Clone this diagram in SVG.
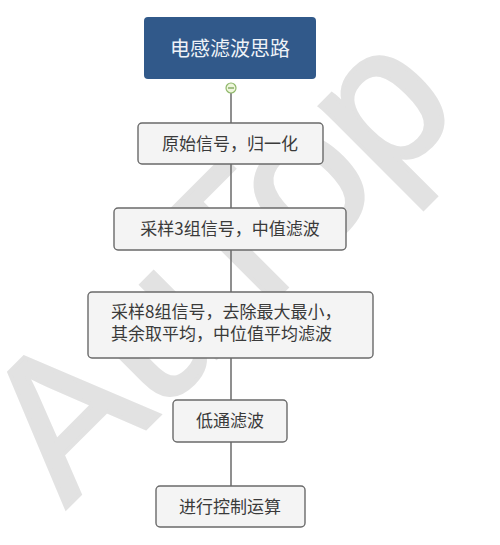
<svg xmlns="http://www.w3.org/2000/svg" width="500" height="545" viewBox="0 0 500 545">
<defs>
<style>
.node rect.b{fill:#f4f4f4;stroke:#6a6a6a;stroke-width:1.4}
.t{font-family:"Microsoft YaHei","Noto Sans CJK SC","Liberation Sans",sans-serif;font-size:17px;fill:#3a3a3a}
.conn line{stroke:#6a6a6a;stroke-width:1.5}
</style>
</defs>
<rect width="500" height="545" fill="#ffffff"/>
<text x="66" y="508" transform="rotate(-45 66 508)" font-family="Liberation Sans, sans-serif" font-size="198" fill="#e2e2e2" stroke="#e2e2e2" stroke-width="4">AuTop</text>
<g class="conn">
<line x1="231" y1="93" x2="231" y2="123"/>
<line x1="231" y1="164" x2="231" y2="208"/>
<line x1="231" y1="250" x2="231" y2="292"/>
<line x1="231" y1="358" x2="231" y2="400"/>
<line x1="231" y1="442" x2="231" y2="486"/>
</g>
<g id="root">
<rect x="144" y="17" width="172" height="62" rx="4" fill="#31598a"/>
<text x="230" y="56" text-anchor="middle" font-family="Microsoft YaHei, Noto Sans CJK SC, sans-serif" font-size="20" fill="#eef2f7">电感滤波思路</text>
<circle cx="231" cy="88" r="5" fill="#eef6dc" stroke="#8fb86a" stroke-width="1.2"/>
<line x1="228" y1="88" x2="234" y2="88" stroke="#6f9a48" stroke-width="1.2"/>
</g>
<g id="n1" class="node">
<rect class="b" x="138" y="123" width="185" height="41" rx="4"/>
<text class="t" x="230" y="150" text-anchor="middle">原始信号，归一化</text>
</g>
<g id="n2" class="node">
<rect class="b" x="114" y="208" width="232" height="42" rx="4"/>
<text class="t" x="230" y="235" text-anchor="middle">采样3组信号，中值滤波</text>
</g>
<g id="n3" class="node">
<rect class="b" x="88" y="292" width="285" height="66" rx="4"/>
<text class="t" x="111" y="318">采样8组信号，去除最大最小，</text>
<text class="t" x="111" y="340">其余取平均，中位值平均滤波</text>
</g>
<g id="n4" class="node">
<rect class="b" x="173" y="400" width="114" height="42" rx="4"/>
<text class="t" x="230" y="427" text-anchor="middle">低通滤波</text>
</g>
<g id="n5" class="node">
<rect class="b" x="156" y="486" width="149" height="41" rx="4"/>
<text class="t" x="230" y="513" text-anchor="middle">进行控制运算</text>
</g>
</svg>
